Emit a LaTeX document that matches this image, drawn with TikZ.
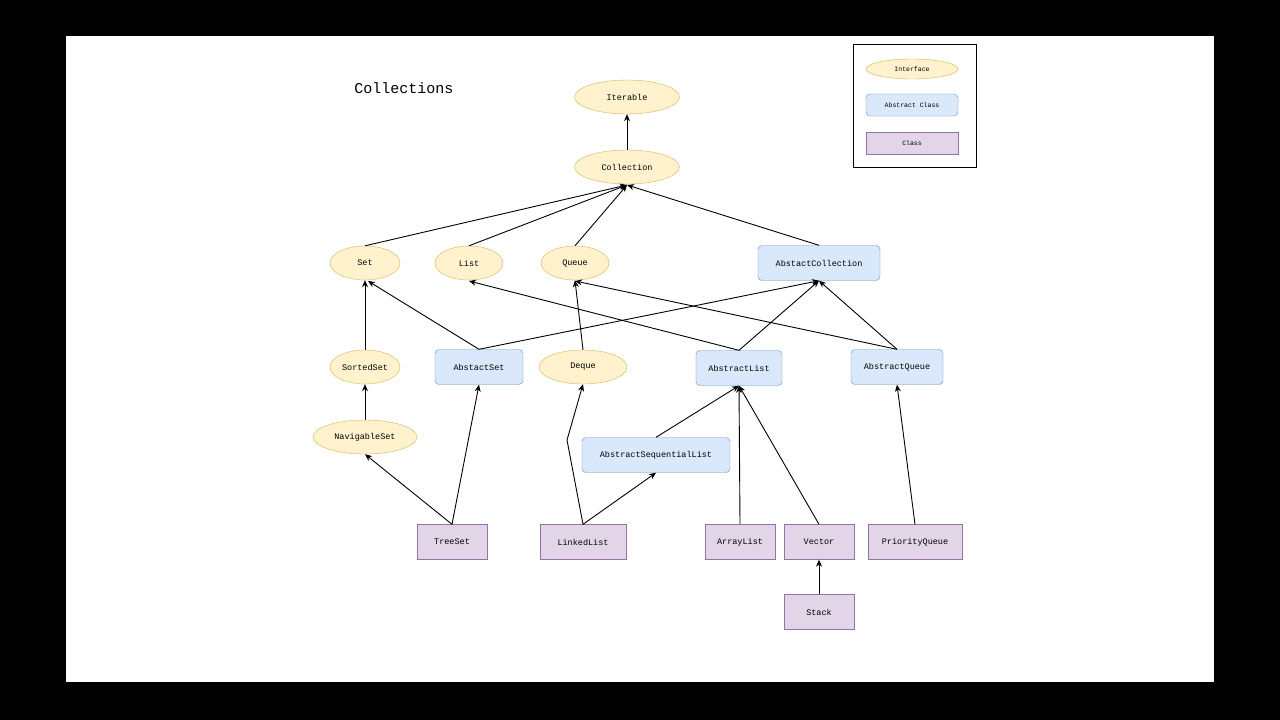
\documentclass[tikz,border=0pt]{standalone}
\usepackage{fontspec}
\setmainfont{Liberation Mono}
\usetikzlibrary{shapes.geometric,arrows.meta}
\definecolor{ify}{HTML}{FFF2CC}\definecolor{ifb}{HTML}{D6B656}
\definecolor{abf}{HTML}{DAE8FC}\definecolor{abb}{HTML}{6C8EBF}
\definecolor{clf}{HTML}{E1D5E7}\definecolor{clb}{HTML}{9673A6}
\tikzset{
 base/.style={font=\fontsize{8.5}{10}\selectfont, inner sep=0pt, text=black},
 intf/.style={base, ellipse, draw=ifb, fill=ify, minimum height=34pt},
 abs/.style={base, rectangle, rounded corners=4pt, draw=abb, fill=abf, minimum height=35pt},
 cls/.style={base, rectangle, draw=clb, fill=clf, minimum height=35pt},
 arr/.style={-{Stealth[length=7pt,width=6pt]}, line width=0.9pt, black},
}
\begin{document}
\begin{tikzpicture}[x=1pt,y=-1pt]
\fill[black] (0,0) rectangle (1280,720);
\fill[white] (66,36) rectangle (1214,682);
\useasboundingbox (0,0) rectangle (1280,720);
\node[font=\fontsize{15}{18}\selectfont] (title) at (404,88) {Collections};
% legend
\draw[line width=1pt] (853,44) rectangle (976,167);
\node[intf, minimum width=92pt, minimum height=20pt, font=\fontsize{6.5}{8}\selectfont] (lI) at (912,69) {Interface};
\node[abs, minimum width=92pt, minimum height=22pt, font=\fontsize{6.5}{8}\selectfont] (lA) at (912,105) {Abstract Class};
\node[cls, minimum width=92pt, minimum height=22pt, font=\fontsize{6.5}{8}\selectfont] (lC) at (912,143) {Class};
% nodes
\node[intf, minimum width=105pt] (it) at (627,97) {Iterable};
\node[intf, minimum width=105pt] (co) at (627,167) {Collection};
\node[intf, minimum width=70pt] (set) at (365,263) {Set};
\node[intf, minimum width=68pt] (list) at (469,263) {List};
\node[intf, minimum width=68pt] (queue) at (575,263) {Queue};
\node[abs, minimum width=122pt] (ac) at (819,263) {AbstactCollection};
\node[intf, minimum width=70pt] (ss) at (365,367) {SortedSet};
\node[abs, minimum width=88pt] (as) at (479,367) {AbstactSet};
\node[intf, minimum width=88pt] (dq) at (583,367) {Deque};
\node[abs, minimum width=86pt] (al) at (739,368) {AbstractList};
\node[abs, minimum width=92pt] (aq) at (897,367) {AbstractQueue};
\node[intf, minimum width=104pt] (ns) at (365,437) {NavigableSet};
\node[abs, minimum width=148pt] (asl) at (656,455) {AbstractSequentialList};
\node[cls, minimum width=70pt] (ts) at (452,542) {TreeSet};
\node[cls, minimum width=86pt] (ll) at (583,542) {LinkedList};
\node[cls, minimum width=70pt] (arl) at (740,542) {ArrayList};
\node[cls, minimum width=70pt] (vec) at (819,542) {Vector};
\node[cls, minimum width=94pt] (pq) at (915,542) {PriorityQueue};
\node[cls, minimum width=70pt] (stk) at (819,612) {Stack};
\coordinate (cob) at (627,185);
\coordinate (bend) at (567,440);
% edges
\draw[arr] (co) -- (it);
\draw[arr] (set.north) -- (cob);
\draw[arr] (list.north) -- (cob);
\draw[arr] (queue.north) -- (cob);
\draw[arr] (ac.north) -- (cob);
\draw[arr] (ss) -- (set);
\draw[arr] (as.north) -- (368,281);
\draw[arr] (al.north) -- (469,281);
\draw[arr] (dq.north) -- (queue.south);
\draw[arr] (aq.north) -- (575,281);
\draw[arr] (as.north) -- (ac.south);
\draw[arr] (al.north) -- (ac.south);
\draw[arr] (aq.north) -- (ac.south);
\draw[arr] (ns) -- (ss);
\draw[arr] (ts.north) -- (ns.south);
\draw[arr] (ts.north) -- (as.south);
\draw[arr] (ll.north) -- (bend) -- (dq.south);
\draw[arr] (ll.north) -- (asl.south);
\draw[arr] (asl.north) -- (al.south);
\draw[arr] (arl.north) -- (al.south);
\draw[arr] (vec.north) -- (al.south);
\draw[arr] (pq.north) -- (aq.south);
\draw[arr] (stk) -- (vec);
\end{tikzpicture}
\end{document}
